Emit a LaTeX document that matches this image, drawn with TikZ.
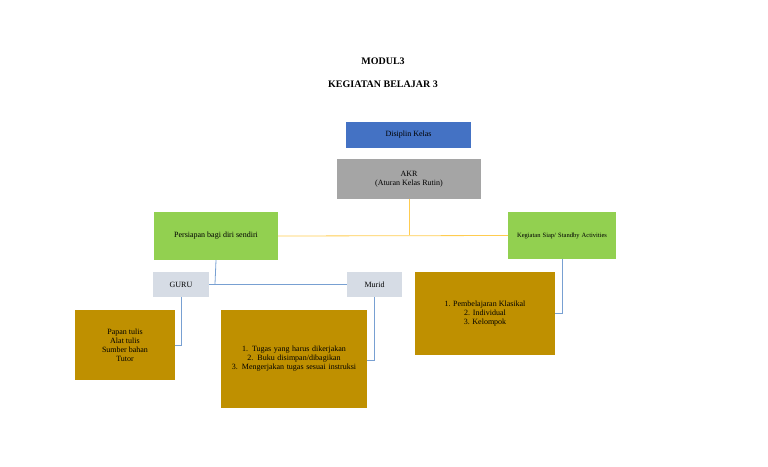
\documentclass[tikz,border=0pt]{standalone}
\usepackage{fontspec}
\setmainfont{Liberation Serif}
\begin{document}
\begin{tikzpicture}[x=1pt,y=-1pt,
 bx/.style={minimum width=#1,inner sep=2pt,align=center,font=\fontsize{8}{9}\selectfont},
 yl/.style={draw={rgb,255:red,255;green,204;blue,80},line width=0.8pt},
 bl/.style={draw={rgb,255:red,120;green,160;blue,210},line width=0.8pt}]
\definecolor{cblue}{RGB}{68,114,196}
\definecolor{cgray}{RGB}{165,165,165}
\definecolor{cgreen}{RGB}{146,208,80}
\definecolor{clight}{RGB}{214,220,229}
\definecolor{cgold}{RGB}{191,144,0}
\useasboundingbox (0,0) rectangle (768,466);
\node[font=\bfseries\fontsize{10}{12}\selectfont] (t1) at (383,61) {MODUL3};
\node[font=\bfseries\fontsize{10}{12}\selectfont] (t2) at (383,84) {KEGIATAN BELAJAR 3};
\node[bx=125pt,minimum height=26pt,fill=cblue] (dk) at (408.5,135) {Disiplin Kelas};
\node[bx=144pt,minimum height=40pt,fill=cgray] (akr) at (409,179) {AKR\\(Aturan Kelas Rutin)};
\node[bx=124pt,minimum height=48pt,fill=cgreen] (ps) at (216,236) {Persiapan bagi diri sendiri};
\node[bx=108pt,minimum height=47pt,fill=cgreen,text width=100pt,font=\fontsize{6.5}{7.5}\selectfont] (kg) at (562,235.5) {Kegiatan Siap/ Standby Activities};
\node[bx=56pt,minimum height=25pt,fill=clight] (guru) at (181,284.5) {GURU};
\node[bx=55pt,minimum height=25pt,fill=clight] (mu) at (374.5,284.5) {Murid};
\node[bx=100pt,minimum height=70pt,fill=cgold] (pp) at (125,345) {Papan tulis\\Alat tulis\\Sumber bahan\\Tutor};
\node[bx=146pt,minimum height=98pt,fill=cgold,text width=138pt] (tg) at (294,359) {1. Tugas yang harus dikerjakan\\2. Buku disimpan/dibagikan\\3. Mengerjakan tugas sesuai instruksi};
\node[bx=140pt,minimum height=83pt,fill=cgold] (pk) at (485,313.5) {1. Pembelajaran Klasikal\\2. Individual\\3. Kelompok};
\coordinate (j1) at (409,235);
\draw[yl] (akr.south) -- (j1);
\draw[yl] (ps.east) -- (kg.west);
\coordinate (j2) at (215,284);
\draw[bl] (ps.south) -- (j2);
\draw[bl] (guru.east) -- (mu.west);
\draw[bl] (guru.south) |- (pp.east);
\draw[bl] (mu.south) |- ([yshift=-1pt]tg.east);
\draw[bl] (kg.south) |- (pk.east);
\end{tikzpicture}
\end{document}
